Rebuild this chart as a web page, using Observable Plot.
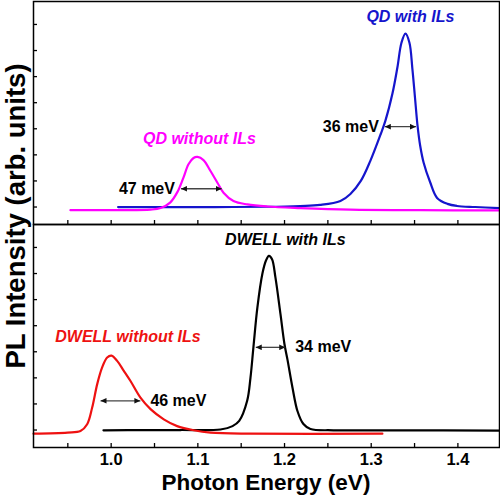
<!DOCTYPE html>
<html>
<head>
<meta charset="utf-8">
<script src="https://cdn.jsdelivr.net/npm/d3@7"></script>
<script src="https://cdn.jsdelivr.net/npm/@observablehq/plot@0.6"></script>
<style>
  body { margin: 0; background: #fff; }
  #chart { width: 500px; height: 495px; }
  #chart svg { overflow: visible; }
</style>
</head>
<body>
<div id="chart"></div>
<script>
// PL spectra: [photon energy (eV), intensity (arb. units)]
const qdWithILs = [
  [1.008, 0.0], [1.06, 0.0], [1.12, 0.0], [1.18, 0.01], [1.218, 0.04], [1.241, 0.08],
  [1.2645, 0.23], [1.276, 0.5], [1.288, 1.0], [1.299, 1.77], [1.311, 2.8], [1.3164, 3.31],
  [1.3245, 4.35], [1.3302, 5.35], [1.3349, 6.3], [1.3395, 6.65], [1.3441, 6.3], [1.3475, 5.3],
  [1.3505, 4.2], [1.3535, 3.1], [1.3565, 2.35], [1.3605, 1.7], [1.368, 0.95], [1.376, 0.35],
  [1.388, 0.12], [1.399, 0.04], [1.42, 0.0], [1.448, -0.04]
];
const qdWithoutILs = [
  [0.953, -0.12], [1.011, -0.12], [1.0454, -0.1], [1.057, -0.04], [1.068, 0.17], [1.0765, 0.58],
  [1.0834, 1.13], [1.0892, 1.64], [1.095, 1.88], [1.0996, 1.92], [1.1065, 1.8], [1.1146, 1.38],
  [1.1226, 0.93], [1.1296, 0.55], [1.1411, 0.23], [1.1572, 0.1], [1.1803, 0.02], [1.2184, -0.04],
  [1.276, -0.1], [1.357, -0.12], [1.448, -0.13]
];
const dwellWithILs = [
  [0.9911, -0.01], [1.04, 0.0], [1.08, 0.0], [1.1261, 0.02], [1.14, 0.15], [1.1477, 0.35],
  [1.1569, 1.12], [1.1607, 2.0], [1.1641, 3.17], [1.1687, 4.7], [1.1745, 6.0], [1.1786, 6.5],
  [1.182, 6.68], [1.1856, 6.55], [1.1895, 5.85], [1.1953, 4.45], [1.1999, 3.3], [1.2034, 2.7],
  [1.2092, 1.62], [1.2149, 0.73], [1.2218, 0.23], [1.2299, 0.04], [1.2564, -0.01], [1.3337, -0.01],
  [1.448, -0.02]
];
const dwellWithoutILs = [
  [0.9104, -0.14], [0.9496, -0.1], [0.9646, -0.04], [0.9723, 0.22], [0.9781, 0.86], [0.9839, 1.76],
  [0.9896, 2.4], [0.9954, 2.78], [1.0004, 2.85], [1.0069, 2.65], [1.0146, 2.27], [1.0223, 1.88],
  [1.0338, 1.24], [1.0454, 0.8], [1.0607, 0.41], [1.0761, 0.15], [1.0953, -0.01], [1.1146, -0.1],
  [1.1607, -0.14], [1.3129, -0.14]
];

const seriesNames = ["QD with ILs", "QD without ILs", "DWELL with ILs", "DWELL without ILs"];
const seriesPanels = ["QD", "QD", "DWELL", "DWELL"];
const seriesData = [qdWithILs, qdWithoutILs, dwellWithILs, dwellWithoutILs];
const seriesColors = ["#1515cc", "#ff00ff", "#000000", "#ee1111"];

// Series label anchors (eV, intensity)
const labelEnergy = [1.3452, 1.1018, 1.201, 1.0194];
const labelIntensity = [7.3, 2.62, 7.3, 3.58];

// FWHM annotations: peak centre (eV), width (meV), height of the arrow
const fwhmPanels = ["QD", "QD", "DWELL", "DWELL"];
const fwhmCenter = [1.104, 1.3337, 1.1838, 1.0107];
const fwhmMeV = [47, 36, 34, 46];
const fwhmLevel = [0.7, 3.08, 3.17, 1.12];
const fwhmLabelSide = ["left", "left", "right", "right"];

const panels = ["QD", "DWELL"];
const xTickMarks = [0.95, 1.0, 1.05, 1.1, 1.15, 1.2, 1.25, 1.3, 1.35, 1.4, 1.45];
const xTickLabels = [1.0, 1.1, 1.2, 1.3, 1.4];
const yTickMarks = [0, 1, 2, 3, 4, 5, 6, 7];

const rows = seriesData.flatMap((pts, k) =>
  pts.map(([e, i]) => ({ name: seriesNames[k], panel: seriesPanels[k], e, i }))
);
const labels = seriesNames.map((name, k) => ({
  name, panel: seriesPanels[k], e: labelEnergy[k], i: labelIntensity[k]
}));
const fwhm = fwhmMeV.map((mev, k) => ({
  panel: fwhmPanels[k],
  x1: fwhmCenter[k] - mev / 2000,
  x2: fwhmCenter[k] + mev / 2000,
  y: fwhmLevel[k],
  side: fwhmLabelSide[k],
  text: `${mev} meV`
}));
const fwhmLeft = fwhm.filter(d => d.side === "left");
const fwhmRight = fwhm.filter(d => d.side === "right");

// small filled triangular arrowhead
function arrowHead(color, context) {
  const ns = "http://www.w3.org/2000/svg";
  const m = context.document.createElementNS(ns, "marker");
  m.setAttribute("viewBox", "-6 -3 6 6");
  m.setAttribute("markerWidth", 6);
  m.setAttribute("markerHeight", 6);
  m.setAttribute("markerUnits", "userSpaceOnUse");
  m.setAttribute("orient", "auto-start-reverse");
  const p = context.document.createElementNS(ns, "path");
  p.setAttribute("d", "M-6,-2.8L0,0L-6,2.8Z");
  p.setAttribute("fill", "#111");
  p.setAttribute("stroke", "none");
  m.appendChild(p);
  return m;
}

const font = "'Liberation Sans', Arial, Helvetica, sans-serif";
const fwhmText = { y: "y", fy: "panel", text: "text", fontSize: 16, fontWeight: "bold", fill: "#000" };

const chart = Plot.plot({
  width: 500,
  height: 495,
  marginTop: 1,
  marginBottom: 48,
  marginLeft: 33,
  marginRight: 1,
  style: { fontFamily: font, background: "#fff", color: "#000" },
  x: { domain: [0.9104, 1.448] },
  y: { domain: [-0.67, 7.88] },
  fy: { domain: panels, padding: 0, axis: null },
  color: { domain: seriesNames, range: seriesColors },
  marks: [
    Plot.axisY({ ticks: yTickMarks, tickSize: 4, insetLeft: 4, tickFormat: () => "", label: null, strokeWidth: 1.3 }),
    Plot.axisX({ ticks: xTickMarks, tickSize: 4, insetBottom: 4, tickFormat: () => "", label: null, facetAnchor: null, strokeWidth: 1.3 }),
    Plot.axisX({ ticks: xTickLabels, tickSize: 0, tickPadding: 6, tickFormat: ".1f", label: null, fontSize: 16.5, fontWeight: "bold" }),
    Plot.line(rows, { x: "e", y: "i", z: "name", stroke: "name", fy: "panel", strokeWidth: 2.2, curve: "catmull-rom" }),
    Plot.link(fwhm, {
      x1: "x1", x2: "x2", y1: "y", y2: "y", fy: "panel",
      stroke: "#444", strokeWidth: 1.3, markerStart: arrowHead, markerEnd: arrowHead
    }),
    Plot.text(fwhmLeft, { ...fwhmText, x: "x1", textAnchor: "end", dx: -6 }),
    Plot.text(fwhmRight, { ...fwhmText, x: "x2", textAnchor: "start", dx: 10 }),
    Plot.text(labels, {
      x: "e", y: "i", fy: "panel", text: "name", fill: "name",
      fontSize: 16, fontWeight: "bold", fontStyle: "italic"
    }),
    Plot.frame({ strokeWidth: 1.5 })
  ]
});

document.getElementById("chart").appendChild(chart);

const svg = d3.select(chart);
svg.append("text")
  .attr("transform", "translate(24.5,216) rotate(-90)")
  .attr("text-anchor", "middle")
  .style("font", `bold 27.5px ${font}`)
  .text("PL Intensity (arb. units)");
svg.append("text")
  .attr("x", 266)
  .attr("y", 490)
  .attr("text-anchor", "middle")
  .style("font", `bold 22.5px ${font}`)
  .text("Photon Energy (eV)");
</script>
</body>
</html>
